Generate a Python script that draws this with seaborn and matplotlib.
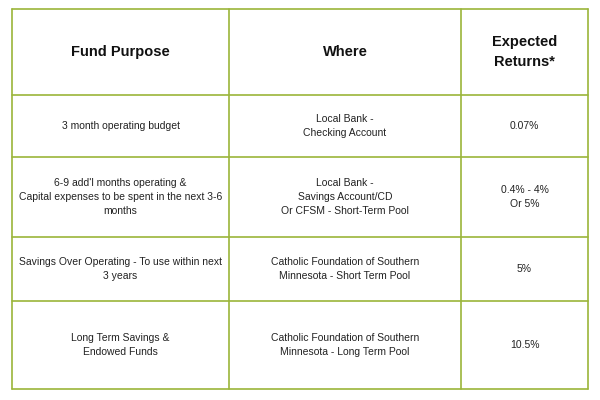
import matplotlib
matplotlib.use("Agg")
import matplotlib.pyplot as plt
import seaborn as sns

sns.set_theme(style="white")
plt.rcParams['font.family'] = ['Liberation Sans', 'DejaVu Sans']

headers = ["Fund Purpose", "Where", "Expected\nReturns*"]
purpose = ["3 month operating budget",
           "6-9 add'l months operating &\nCapital expenses to be spent in the next 3-6\nmonths",
           "Savings Over Operating - To use within next\n3 years",
           "Long Term Savings &\nEndowed Funds"]
where = ["Local Bank -\nChecking Account",
         "Local Bank -\nSavings Account/CD\nOr CFSM - Short-Term Pool",
         "Catholic Foundation of Southern\nMinnesota - Short Term Pool",
         "Catholic Foundation of Southern\nMinnesota - Long Term Pool"]
returns = ["0.07%", "0.4% - 4%\nOr 5%", "5%", "10.5%"]

col_edges = [12, 229, 461, 588]
row_edges = [9, 95, 157, 237, 301, 389]
border = "#9bb53a"

fig = plt.figure(figsize=(6, 4), dpi=100)
ax = fig.add_axes([0, 0, 1, 1])
ax.set_xlim(0, 600)
ax.set_ylim(400, 0)
ax.axis("off")

for x in col_edges:
    ax.plot([x, x], [row_edges[0], row_edges[-1]], color=border, lw=1.2)
for y in row_edges:
    ax.plot([col_edges[0], col_edges[-1]], [y, y], color=border, lw=1.2)

cx = [(col_edges[i] + col_edges[i + 1]) / 2 for i in range(3)]
hy = (row_edges[0] + row_edges[1]) / 2
for c, h in zip(cx, headers):
    ax.text(c, hy, h, ha="center", va="center", fontsize=10.5, fontweight="bold",
            color="#111111", linespacing=1.6)

for r in range(4):
    y = (row_edges[r + 1] + row_edges[r + 2]) / 2
    for c, t in zip(cx, [purpose[r], where[r], returns[r]]):
        ax.text(c, y, t, ha="center", va="center", fontsize=7.5, color="#222222",
                linespacing=1.55)

fig.savefig("out.png", dpi=100, facecolor="white")
